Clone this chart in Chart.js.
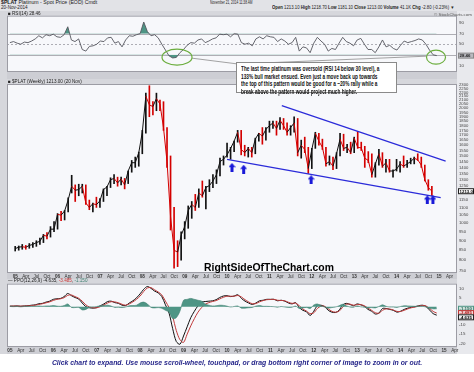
<!DOCTYPE html>
<html>
<head>
<meta charset="utf-8">
<script src="https://cdn.jsdelivr.net/npm/chart.js@4.4.0/dist/chart.umd.min.js"></script>
<style>
  body { margin: 0; width: 474px; height: 372px; background: #fff; position: relative; overflow: hidden;
         font-family: "Liberation Sans", Arial, sans-serif; }
  #head { position: absolute; left: 0; top: 0; width: 474px; height: 11px; background: #e2e3e7; }
  canvas { position: absolute; left: 0; }
  .t { position: absolute; white-space: nowrap; color: #222; transform-origin: 0 0; z-index: 5; line-height: 1; }
  #note { position: absolute; left: 236px; top: 62px; width: 159px; height: 29px; background: #fff;
          border: 1px solid #8a8a8a; z-index: 6; }
  #note div { position: absolute; left: 4px; white-space: nowrap; font: bold 6.4px "Liberation Sans", Arial;
              color: #111; transform-origin: 0 0; transform: scaleX(0.74); }
  #foot { position: absolute; left: 0; width: 474px; top: 359px; text-align: center; z-index: 5;
          font: italic bold 6.9px "Liberation Sans", Arial; color: #26268a; }
</style>
</head>
<body>
<div id="head"></div>
<div class="t" style="left:1px;top:0px;font-size:5.2px"><b>$PLAT</b> Platinum - Spot Price (EOD) Cmdt</div>
<div class="t" style="left:1px;top:6px;font-size:4.6px">20-Nov-2014</div>
<div class="t" style="left:210px;top:1px;font-size:4.6px;transform:scaleX(0.7)">November 21, 2014 11:38 AM</div>
<div class="t" style="left:272px;top:6px;font-size:4.6px;transform:scaleX(0.93)"><b>Open</b> 1213.10 <b>High</b> 1218.70 <b>Low</b> 1181.10 <b>Close</b> 1213.00 <b>Volume</b> 41.1K <b>Chg</b> -2.80 (-0.23%) &#9660;</div>
<div class="t" style="left:434px;top:13px;font-size:4.4px;color:#555">&copy; StockCharts.com</div>
<div class="t" style="left:8px;top:12px;font-size:4.6px">&#9632; RSI(14) 28.46</div>
<div class="t" style="left:8px;top:80px;font-size:4.6px">&#9632; $PLAT (Weekly) 1213.00 (20 Nov)</div>
<div class="t" style="left:8px;top:279px;font-size:4.6px">&#8212; PPO(12,26,9) -4.635, <span style="color:#c33">-3.485</span>, <span style="color:#3d7f70">-1.150</span></div>
<div class="t" style="left:204px;top:263px;font-size:10.4px;font-weight:bold;color:#000">RightSideOfTheChart.com</div>
<div id="note">
  <div style="top:2px">The last time platinum was oversold (RSI 14 below 30 level), a</div>
  <div style="top:9.5px">133% bull market ensued. Even just a move back up towards</div>
  <div style="top:17px">the top of this pattern would be good for a ~20% rally while a</div>
  <div style="top:24.5px">break above the pattern would project much higher.</div>
</div>
<div id="foot">Click chart to expand. Use mouse scroll-wheel, touchpad, or drag bottom right corner of image to zoom in or out.</div>

<canvas id="rsiChart" width="474" height="68" style="top:11px"></canvas>
<canvas id="priceChart" width="474" height="201" style="top:79px"></canvas>
<canvas id="ppoChart" width="474" height="75" style="top:279px"></canvas>

<script>
// monthly readings, Jan 2005 .. Nov 2014 (x = months since Jan 2005)
const priceClose = [
  858, 866, 868, 865, 875, 880, 890, 897, 930, 925, 965, 965,
  1055, 1050, 1077, 1150, 1250, 1220, 1225, 1250, 1130, 1100, 1125, 1118,
  1145, 1225, 1245, 1300, 1310, 1275, 1305, 1260, 1370, 1440, 1440, 1530,
  1730, 2150, 2040, 2020, 2120, 2050, 1780, 1450, 1040, 850, 840, 930,
  980, 1080, 1120, 1100, 1200, 1180, 1240, 1255, 1290, 1340, 1450, 1470,
  1510, 1570, 1640, 1730, 1560, 1530, 1570, 1530, 1660, 1720, 1690, 1760,
  1800, 1830, 1770, 1860, 1800, 1730, 1780, 1830, 1530, 1600, 1560, 1390,
  1560, 1720, 1640, 1580, 1430, 1450, 1410, 1520, 1660, 1570, 1580, 1530,
  1670, 1580, 1575, 1480, 1460, 1340, 1430, 1520, 1410, 1440, 1370, 1370,
  1385, 1430, 1410, 1430, 1450, 1480, 1465, 1420, 1300, 1240, 1213
];
const priceHigh = [
  870, 872, 880, 875, 885, 890, 900, 915, 935, 945, 980, 1010,
  1060, 1075, 1080, 1165, 1335, 1260, 1265, 1265, 1260, 1150, 1130, 1170,
  1160, 1230, 1250, 1315, 1340, 1320, 1320, 1310, 1370, 1460, 1490, 1535,
  1750, 2190, 2290, 2080, 2190, 2100, 2080, 1780, 1500, 1100, 900, 950,
  1010, 1110, 1140, 1190, 1230, 1290, 1250, 1300, 1340, 1380, 1480, 1500,
  1620, 1580, 1640, 1750, 1750, 1600, 1580, 1580, 1670, 1720, 1780, 1780,
  1850, 1850, 1850, 1890, 1880, 1830, 1800, 1900, 1880, 1650, 1680, 1580,
  1570, 1730, 1720, 1660, 1580, 1500, 1490, 1530, 1720, 1710, 1610, 1630,
  1680, 1740, 1630, 1590, 1540, 1520, 1440, 1560, 1530, 1470, 1470, 1380,
  1470, 1450, 1500, 1460, 1480, 1490, 1520, 1490, 1420, 1300, 1250
];
const priceLow = [
  846, 850, 855, 855, 860, 865, 870, 880, 890, 910, 920, 950,
  965, 1015, 1020, 1070, 1200, 1140, 1180, 1200, 1120, 1085, 1070, 1100,
  1100, 1140, 1180, 1240, 1270, 1250, 1260, 1230, 1270, 1360, 1400, 1410,
  1520, 1720, 1900, 1920, 1970, 1970, 1750, 1400, 960, 763, 770, 800,
  910, 970, 1030, 1080, 1100, 1170, 1090, 1210, 1240, 1270, 1330, 1420,
  1490, 1470, 1540, 1630, 1510, 1500, 1490, 1490, 1520, 1640, 1610, 1650,
  1730, 1770, 1700, 1760, 1760, 1700, 1700, 1730, 1500, 1480, 1530, 1350,
  1390, 1570, 1600, 1560, 1410, 1420, 1380, 1390, 1500, 1550, 1530, 1520,
  1530, 1570, 1550, 1400, 1440, 1320, 1320, 1420, 1400, 1360, 1360, 1320,
  1370, 1360, 1400, 1400, 1430, 1430, 1460, 1400, 1290, 1220, 1181
];
const rsi14 = [
  53, 55, 52, 50, 54, 53, 56, 60, 66, 62, 68, 66,
  69, 64, 63, 68, 83, 58, 55, 60, 40, 37, 46, 47,
  50, 56, 55, 62, 63, 52, 55, 45, 58, 66, 65, 68,
  70, 92, 74, 66, 68, 62, 50, 39, 28, 24, 25, 34,
  40, 48, 53, 52, 58, 60, 53, 56, 60, 62, 69, 68,
  69, 64, 70, 69, 53, 50, 52, 47, 60, 64, 60, 66,
  64, 63, 55, 60, 56, 50, 53, 63, 37, 45, 43, 34,
  52, 63, 56, 50, 37, 42, 40, 52, 63, 55, 52, 47,
  58, 61, 50, 40, 40, 34, 45, 58, 45, 48, 42, 39,
  48, 56, 53, 55, 57, 60, 58, 50, 39, 30, 28.46
];
const ppoLine = [
  0.3, 0.3, 0.4, 0.2, 0.4, 0.5, 0.8, 1.0, 1.6, 1.8, 2.5, 3.0,
  4.0, 4.3, 4.5, 5.5, 7.2, 6.0, 5.0, 4.2, 2.0, 0.0, -0.6, -0.8,
  -0.5, 0.5, 1.5, 2.8, 3.0, 2.2, 1.8, 0.8, 0.6, 2.0, 3.2, 4.8,
  7.0, 9.5, 11.0, 10.0, 8.5, 7.5, 5.5, 1.0, -3.5, -12.0, -19.0, -20.5,
  -16.0, -11.0, -6.0, -2.5, 0.5, 2.5, 2.8, 3.0, 3.2, 3.8, 5.0, 5.8,
  6.0, 5.5, 5.8, 6.5, 4.5, 3.0, 2.0, 1.2, 2.0, 3.2, 3.5, 4.0,
  4.0, 4.0, 3.2, 3.5, 3.0, 2.0, 1.5, 2.2, -0.5, -2.0, -2.8, -4.8,
  -2.5, 0.5, 0.8, 0.0, -2.0, -3.0, -3.2, -2.0, 1.0, 1.8, 1.2, 0.5,
  1.5, 1.0, 0.2, -1.5, -2.5, -4.0, -3.5, -1.0, -1.0, -1.5, -2.0, -3.0,
  -2.5, -1.5, -0.8, -0.3, 0.0, 0.5, 0.8, 0.2, -1.8, -3.8, -4.635
];
const ppoSignal = [
  0.2, 0.3, 0.3, 0.3, 0.3, 0.4, 0.6, 0.8, 1.2, 1.6, 2.1, 2.6,
  3.4, 4.0, 4.3, 4.9, 6.2, 6.4, 5.5, 4.6, 3.0, 1.0, -0.2, -0.6,
  -0.6, 0.0, 0.9, 2.0, 2.7, 2.6, 2.1, 1.3, 0.8, 1.5, 2.6, 4.0,
  5.8, 8.3, 10.2, 10.4, 9.2, 8.0, 6.4, 3.0, -0.5, -5.5, -13.0, -18.0,
  -19.5, -15.0, -10.5, -6.5, -3.0, -0.5, 1.3, 2.2, 2.8, 3.3, 4.2, 5.1,
  5.7, 5.7, 5.7, 6.1, 5.3, 3.8, 2.6, 1.6, 1.7, 2.6, 3.3, 3.8,
  3.9, 4.0, 3.5, 3.4, 3.2, 2.4, 1.8, 1.9, 0.5, -1.3, -2.4, -3.8,
  -3.4, -1.0, 0.3, 0.2, -1.2, -2.5, -3.0, -2.5, -0.3, 1.3, 1.4, 0.8,
  1.1, 1.1, 0.5, -0.8, -2.0, -3.3, -3.6, -2.0, -1.2, -1.3, -1.8, -2.6,
  -2.6, -2.0, -1.2, -0.6, -0.2, 0.3, 0.6, 0.4, -0.9, -2.6, -3.485
];
const ppoHist = [
  0.1, 0.0, 0.1, -0.1, 0.1, 0.1, 0.2, 0.2, 0.4, 0.2, 0.4, 0.4,
  0.6, 0.3, 0.2, 0.6, 1.5, -0.4, -0.5, -0.4, -1.8, -1.5, -0.4, -0.2,
  0.1, 0.5, 0.6, 0.8, 0.3, -0.4, -0.3, -0.5, -0.2, 0.5, 0.6, 0.8,
  2.0, 2.5, 1.5, -0.4, -0.7, -0.5, -0.9, -2.0, -3.0, -6.5, -6.0, -2.5,
  3.5, 4.0, 4.5, 4.0, 3.5, 3.0, 1.5, 0.8, 0.4, 0.5, 0.8, 0.7,
  0.3, -0.2, 0.1, 0.4, -0.8, -0.8, -0.6, -0.4, 0.3, 0.6, 0.2, 0.2,
  0.1, 0.0, -0.3, 0.1, -0.2, -0.4, -0.3, 0.3, -1.0, -0.7, -0.4, -1.0,
  0.9, 1.5, 0.5, -0.2, -0.8, -0.5, -0.2, 0.5, 1.3, 0.5, -0.2, -0.3,
  0.4, -0.1, -0.3, -0.7, -0.5, -0.7, 0.1, 1.0, 0.2, -0.2, -0.2, -0.4,
  0.1, 0.5, 0.4, 0.3, 0.2, 0.2, 0.2, -0.2, -0.9, -1.2, -1.15
];

// x axis labels, one every 3 months from Jan 2005
const xTickLabels = [
  '05', 'Apr', 'Jul', 'Oct', '06', 'Apr', 'Jul', 'Oct', '07', 'Apr', 'Jul', 'Oct',
  '08', 'Apr', 'Jul', 'Oct', '09', 'Apr', 'Jul', 'Oct', '10', 'Apr', 'Jul', 'Oct',
  '11', 'Apr', 'Jul', 'Oct', '12', 'Apr', 'Jul', 'Oct', '13', 'Apr', 'Jul', 'Oct',
  '14', 'Apr', 'Jul', 'Oct', '15', 'Apr'
];
const priceTicks = [
  750, 800, 850, 900, 950, 1000, 1050, 1100, 1150, 1200, 1250, 1300, 1350, 1400, 1450, 1500,
  1550, 1600, 1650, 1700, 1750, 1800, 1850, 1900, 1950, 2000, 2050, 2100, 2150, 2200, 2250, 2300
];
const rsiTicks = [10, 30, 50, 70, 90];
const ppoTicks = [10, 5, -10, -15, -20];

// wedge trendlines and support arrows (months, price)
const upperTrend = [[75.5, 2032], [121.9, 1454]];
const lowerTrend = [[60, 1470], [120.5, 1167]];
const arrowMonths = [61.4, 64.7, 83.8, 116.7, 118.3];
const arrowPrices = [1400, 1385, 1300, 1152, 1152];

const RED = '#d40000', BLACK = '#111', BLUE = '#2b2bd9', TEAL = '#4e9585';
const pts = arr => arr.map((v, i) => ({ x: i, y: v }));

const panelBg = {
  id: 'panelBg',
  beforeDraw(chart) {
    const { ctx, chartArea: a, width, height } = chart;
    ctx.save();
    ctx.fillStyle = '#d6d7dc';
    ctx.fillRect(0, 0, width, height);
    ctx.fillStyle = '#e8e9ed';
    ctx.fillRect(a.right, 0, width - a.right, height);
    ctx.fillStyle = '#f7f8fb';
    ctx.fillRect(a.left, a.top, a.right - a.left, a.bottom - a.top);
    if (height - a.bottom > 1) {
      ctx.fillStyle = '#cdced4';
      ctx.fillRect(a.left, a.bottom, a.right - a.left, height - a.bottom);
    }
    ctx.restore();
  },
  afterDraw(chart) {
    const { ctx, chartArea: a } = chart;
    ctx.save();
    ctx.strokeStyle = '#9c9ca4';
    ctx.lineWidth = 1;
    ctx.strokeRect(a.left + 0.5, a.top + 0.5, a.right - a.left - 1, a.bottom - a.top - 1);
    // value tags on the right axis
    (chart.options.plugins.panelBg.tags || []).forEach(t => {
      const y = chart.scales.y.getPixelForValue(t.value);
      ctx.fillStyle = t.bg;
      ctx.fillRect(a.right + 1, y - 2.5, 16, 5);
      ctx.strokeStyle = t.line;
      ctx.strokeRect(a.right + 1.5, y - 2.5, 15, 5);
      ctx.fillStyle = t.color;
      ctx.font = 'bold 4.4px "Liberation Sans", Arial';
      ctx.textBaseline = 'middle';
      ctx.fillText(t.text, a.right + 2.5, y + 0.2);
    });
    ctx.restore();
  }
};

function xAxis(show) {
  return {
    type: 'linear', min: -0.8, max: 123.6, display: show,
    afterBuildTicks: s => { s.ticks = xTickLabels.map((_, i) => ({ value: i * 3 })); },
    afterFit: s => { s.height = 7; },
    grid: { display: false, drawTicks: false },
    border: { display: false },
    ticks: {
      padding: 1, autoSkip: false, maxRotation: 0, color: '#333',
      font: c => ({ size: 4.6, weight: c.tick && c.tick.value % 12 === 0 ? 'bold' : 'normal' }),
      callback: v => xTickLabels[Math.round(v / 3)]
    }
  };
}

function yAxis(extra) {
  return Object.assign({
    position: 'right',
    afterFit: s => { s.width = 17; },
    grid: { display: false, drawTicks: false },
    border: { display: false },
    ticks: { padding: 2, autoSkip: false, color: '#444', font: { size: 4.4 }, crossAlign: 'near' }
  }, extra);
}

const baseOpts = {
  responsive: false, animation: false, events: [],
  plugins: { legend: { display: false }, tooltip: { enabled: false } }
};

// ---------- RSI panel ----------
const rsiLines = {
  id: 'rsiLines',
  beforeDatasetsDraw(chart) {
    const { ctx, chartArea: a, scales: { y } } = chart;
    ctx.save();
    ctx.strokeStyle = '#9a9aa2';
    ctx.lineWidth = 0.8;
    [30, 50, 70].forEach(v => {
      ctx.setLineDash(v === 50 ? [2, 2] : []);
      const py = Math.round(y.getPixelForValue(v)) + 0.5;
      ctx.beginPath(); ctx.moveTo(a.left, py); ctx.lineTo(a.right, py); ctx.stroke();
    });
    ctx.restore();
  },
  afterDatasetsDraw(chart) {
    const { ctx, scales: { x, y } } = chart;
    const e1 = { cx: x.getPixelForValue(46.2), cy: y.getPixelForValue(25.5), rx: 15, ry: 8 };
    const e2 = { cx: x.getPixelForValue(117.8), cy: y.getPixelForValue(25.5), rx: 9.5, ry: 7 };
    ctx.save();
    // callout lines toward the note box
    ctx.strokeStyle = '#8c8c8c';
    ctx.lineWidth = 0.8;
    ctx.beginPath();
    ctx.moveTo(e1.cx + e1.rx, e1.cy + 1);
    ctx.lineTo(238, 53);
    ctx.lineTo(e2.cx - e2.rx, e2.cy - 1);
    ctx.stroke();
    ctx.strokeStyle = '#6aad3c';
    ctx.lineWidth = 1.2;
    [e1, e2].forEach(e => {
      ctx.beginPath(); ctx.ellipse(e.cx, e.cy, e.rx, e.ry, 0, 0, Math.PI * 2); ctx.stroke();
    });
    ctx.restore();
  }
};

new Chart(document.getElementById('rsiChart'), {
  type: 'line',
  data: {
    datasets: [
      { data: pts(rsi14), borderColor: '#55565e', borderWidth: 0.9, pointRadius: 0,
        fill: { target: { value: 70 }, above: TEAL, below: 'rgba(0,0,0,0)' } },
      { data: pts(rsi14), borderColor: 'rgba(0,0,0,0)', borderWidth: 0, pointRadius: 0,
        fill: { target: { value: 30 }, above: 'rgba(0,0,0,0)', below: TEAL } }
    ]
  },
  options: Object.assign({}, baseOpts, {
    layout: { padding: { left: 7, right: 0, top: 0, bottom: 0 } },
    plugins: Object.assign({}, baseOpts.plugins, {
      panelBg: { tags: [{ value: 28.46, text: '28.46', bg: '#b9bac0', line: '#888', color: '#222' }] }
    }),
    scales: {
      x: xAxis(false),
      y: yAxis({ min: -2.5, max: 104,
        afterBuildTicks: s => { s.ticks = rsiTicks.map(v => ({ value: v })); } })
    }
  }),
  plugins: [panelBg, rsiLines]
});

// ---------- price panel ----------
const arrowImg = document.createElement('canvas');
arrowImg.width = 7; arrowImg.height = 9;
(() => {
  const a = arrowImg.getContext('2d');
  a.fillStyle = '#1a1ad8';
  a.beginPath();
  a.moveTo(3.5, 0); a.lineTo(7, 4.2); a.lineTo(5, 4.2); a.lineTo(5, 9);
  a.lineTo(2, 9); a.lineTo(2, 4.2); a.lineTo(0, 4.2); a.closePath(); a.fill();
})();

const barColors = priceClose.map((c, i) => (i > 0 && c < priceClose[i - 1]) ? RED : BLACK);

new Chart(document.getElementById('priceChart'), {
  type: 'bar',
  data: {
    datasets: [
      { type: 'bar', data: priceClose.map((c, i) => ({ x: i, y: [priceLow[i], priceHigh[i]] })),
        backgroundColor: barColors, barThickness: 1, order: 3 },
      { type: 'line', data: pts(priceClose), borderWidth: 1, pointRadius: 0, order: 2,
        segment: { borderColor: c => c.p1.parsed.y < c.p0.parsed.y ? RED : BLACK } },
      { type: 'line', data: upperTrend.map(p => ({ x: p[0], y: p[1] })), borderColor: BLUE,
        borderWidth: 1.2, pointRadius: 0, order: 1 },
      { type: 'line', data: lowerTrend.map(p => ({ x: p[0], y: p[1] })), borderColor: BLUE,
        borderWidth: 1.2, pointRadius: 0, order: 1 },
      { type: 'scatter', data: arrowMonths.map((m, i) => ({ x: m, y: arrowPrices[i] })),
        pointStyle: arrowImg, pointRadius: 4, order: 0 }
    ]
  },
  options: Object.assign({}, baseOpts, {
    layout: { padding: { left: 7, right: 0, top: 1, bottom: 0 } },
    plugins: Object.assign({}, baseOpts.plugins, {
      panelBg: { tags: [{ value: 1213, text: '1213.00', bg: '#fff', line: '#222', color: '#000' }] }
    }),
    scales: {
      x: xAxis(true),
      y: yAxis({ type: 'logarithmic', min: 741, max: 2314,
        afterBuildTicks: s => { s.ticks = priceTicks.map(v => ({ value: v })); },
        ticks: { padding: 2, autoSkip: false, color: '#444', font: { size: 4.2 }, crossAlign: 'near',
                 callback: v => String(v) } })
    }
  }),
  plugins: [panelBg]
});

// ---------- PPO panel ----------
new Chart(document.getElementById('ppoChart'), {
  type: 'line',
  data: {
    datasets: [
      { data: pts(ppoHist), borderColor: '#3f8070', borderWidth: 0.6, pointRadius: 0,
        backgroundColor: TEAL, fill: 'origin', tension: 0.3 },
      { data: pts(ppoSignal), borderColor: '#c03a3a', borderWidth: 1, pointRadius: 0, tension: 0.3 },
      { data: pts(ppoLine), borderColor: BLACK, borderWidth: 1, pointRadius: 0, tension: 0.3 }
    ]
  },
  options: Object.assign({}, baseOpts, {
    layout: { padding: { left: 7, right: 0, top: 0, bottom: 0 } },
    plugins: Object.assign({}, baseOpts.plugins, {
      panelBg: { tags: [
        { value: -1.15, text: '-1.150', bg: '#cfe3dc', line: '#4e9585', color: '#2d6b5d' },
        { value: -3.485, text: '-3.485', bg: '#f3d6d6', line: '#c03a3a', color: '#b02020' },
        { value: -5.8, text: '-4.635', bg: '#eee', line: '#222', color: '#000' }
      ] }
    }),
    scales: {
      x: xAxis(true),
      y: yAxis({ min: -22, max: 12.56,
        afterBuildTicks: s => { s.ticks = ppoTicks.map(v => ({ value: v })); } })
    }
  }),
  plugins: [panelBg]
});
</script>
</body>
</html>
